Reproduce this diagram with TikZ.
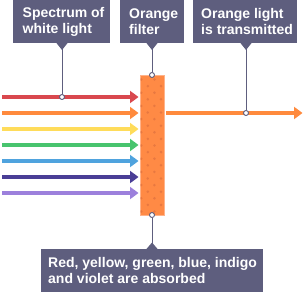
\documentclass[tikz,border=0pt]{standalone}
\usepackage{fontspec}
\setmainfont{Liberation Sans}
\usetikzlibrary{arrows.meta}
\definecolor{slate}{HTML}{5E5E7E}
\definecolor{filterfill}{HTML}{FF8A45}
\definecolor{filterdot}{HTML}{E87840}
\definecolor{filteredge}{HTML}{FFB38A}
\definecolor{cred}{HTML}{D9484E}
\definecolor{corange}{HTML}{FF8A3D}
\definecolor{cyellow}{HTML}{FFDC5A}
\definecolor{cgreen}{HTML}{48C46E}
\definecolor{cblue}{HTML}{4FA3DE}
\definecolor{cindigo}{HTML}{4A3E96}
\definecolor{cviolet}{HTML}{9C80DC}
\tikzset{
  labelbox/.style={fill=slate, inner sep=0pt, anchor=north west},
  labeltext/.style={text=white, font=\bfseries\fontsize{14}{16.5}\selectfont,
    align=left, inner sep=0pt, anchor=west},
  pointer/.style={draw=slate, line width=1pt},
  pdot/.style={circle, draw=slate, fill=white, line width=0.9pt, minimum size=5pt, inner sep=0pt},
  ray/.style={line width=4pt, -{Triangle[length=8.5pt,width=12pt]}},
}
\begin{document}
\begin{tikzpicture}[x=1pt,y=-1pt]
\useasboundingbox (0,0) rectangle (304,294);
% rays
\foreach \c/\y [count=\i] in {cred/97,corange/113,cyellow/129,cgreen/145,cblue/161,cindigo/177,cviolet/193}{
  \coordinate (s\i) at (2,\y);
  \coordinate (e\i) at (138.5,\y);
  \draw[ray, draw=\c, fill=\c] (s\i) -- (e\i);
}
% filter
\node[fill=filterfill, draw=filteredge, line width=0.8pt, minimum width=24pt, minimum height=140pt, inner sep=0pt] (filter) at (152,145) {};
\begin{scope}
\clip (140.5,75.5) rectangle (163.5,214.5);
\foreach \r in {0,...,21}{
  \pgfmathsetmacro{\yy}{79.5+\r*6.6}
  \pgfmathsetmacro{\off}{mod(\r,2)*6.6}
  \foreach \k in {0,...,3}{
    \fill[filterdot] ({141.2+\off+\k*13.2},\yy) circle (1.4pt);
  }
}
\end{scope}
% transmitted ray
\coordinate (ts) at (166,113);
\coordinate (te) at (302.5,113);
\draw[ray, draw=corange, fill=corange] (ts) -- (te);
% label boxes
\node[labelbox, minimum width=97pt, minimum height=43pt] (b1) at (13,0) {};
\node[labelbox, minimum width=64pt, minimum height=43pt] (b2) at (120,0) {};
\node[labelbox, minimum width=104pt, minimum height=43pt] (b3) at (193,0) {};
\node[labelbox, minimum width=222pt, minimum height=43pt] (b4) at (41,249) {};
\node[labeltext] (t1) at ([xshift=9.5pt]b1.west) {Spectrum of\\white light};
\node[labeltext] (t2) at ([xshift=9pt]b2.west) {Orange\\filter};
\node[labeltext] (t3) at ([xshift=8pt]b3.west) {Orange light\\is transmitted};
\node[labeltext] (t4) at ([xshift=7pt]b4.west) {Red, yellow, green, blue, indigo\\and violet are absorbed};
% pointer triangles
\fill[slate] (56,42.5) -- (68,42.5) -- (62,50) -- cycle;
\fill[slate] (146,42.5) -- (158,42.5) -- (152,50) -- cycle;
\fill[slate] (240,42.5) -- (252,42.5) -- (246,50) -- cycle;
\fill[slate] (146,249.5) -- (158,249.5) -- (152,242.5) -- cycle;
\coordinate (p1) at (62,49);
\coordinate (p2) at (152,49);
\coordinate (p3) at (246,49);
\coordinate (p4) at (152,243.5);
% dots
\node[pdot] (d1) at (62,97) {};
\node[pdot] (d2) at (152,75) {};
\node[pdot] (d3) at (246,113) {};
\node[pdot] (d4) at (152,215) {};
\draw[pointer] (p1) -- (d1);
\draw[pointer] (p2) -- (d2);
\draw[pointer] (p3) -- (d3);
\draw[pointer] (p4) -- (d4);
\end{tikzpicture}
\end{document}
